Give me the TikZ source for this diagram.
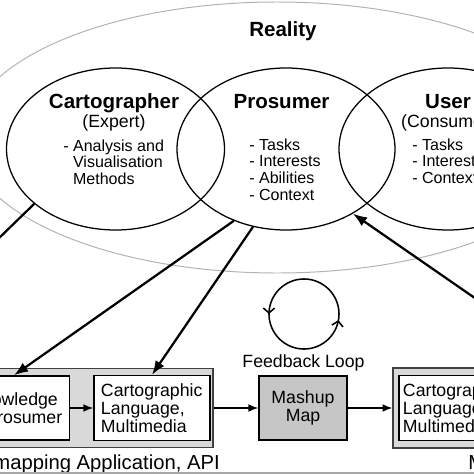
\documentclass[tikz,border=0pt]{standalone}
\usepackage{fontspec}
\setmainfont{Liberation Sans}
\usetikzlibrary{shapes.geometric, arrows.meta, decorations.markings}

\newcommand{\titlesize}{\fontsize{14.6}{17}\selectfont\bfseries}
\newcommand{\rolesize}{\fontsize{12.6}{15}\selectfont}
\newcommand{\entrysize}{\fontsize{11.4}{11.9}\selectfont}
\newcommand{\cardsize}{\fontsize{12.6}{13}\selectfont}
\newcommand{\appsize}{\fontsize{14.4}{17}\selectfont}

\begin{document}
\begin{tikzpicture}[x=0.025cm, y=-0.025cm,
		realm/.style={ellipse, draw=gray!60, line width=0.7pt, inner sep=0pt, minimum width=620*\px, minimum height=271*\px},
		actor/.style={ellipse, draw, line width=0.9pt, inner sep=0pt, minimum width=218*\px, minimum height=162*\px},
		heading/.style={anchor=base, inner sep=0pt, font=\titlesize},
		role/.style={anchor=base, inner sep=0pt, font=\rolesize},
		entry/.style={anchor=base west, inner sep=0pt, font=\entrysize},
		panel/.style={draw=black!75, line width=0.8pt, fill=gray!30, inner sep=0pt},
		card/.style={draw, line width=1pt, fill=white, inner ysep=0pt, inner xsep=7*\px, font=\cardsize},
		flow/.style={line width=1pt, -{Latex[length=7pt, width=5.5pt]}},
		link/.style={line width=1.6pt, -{Latex[length=10pt, width=7.5pt]}},
		feedback/.style={line width=1.1pt, postaction={decorate},
			decoration={markings,
				mark=at position 0.5 with {\arrow{Straight Barb[length=3.5pt, width=8pt]}},
				mark=at position 0.972 with {\arrow{Straight Barb[length=3.5pt, width=8pt]}}}},
		applabel/.style={inner sep=0pt, font=\appsize}]
			\def\px{0.025cm}

			\useasboundingbox (0,0) rectangle (474,474);
			\clip (0,0) rectangle (474,474);

			\begin{scope}
				\node[realm] (reality) at (277,137.5) {};
				\node[actor] (carto) at (115.5,149) {};
				\node[actor] (prosumer) at (286,149) {};
				\node[actor] (user) at (448,149) {};
			\end{scope}

			\begin{scope}
				\node[heading] (reality-t) at (283,36) {Reality};
				\node[heading] (carto-t) at (114,108) {Cartographer};
				\node[heading] (prosumer-t) at (281.5,108) {Prosumer};
				\node[heading] (user-t) at (448,108) {User};
				\node[role] (carto-r) at (114,127) {(Expert)};
				\node[role] (user-r) at (448,127) {(Consumer)};

				\foreach \txt [count=\i] in {{- Analysis and}, {\phantom{- }Visualisation}, {\phantom{- }Methods}}
				{
					\node[entry] (carto-\i) at (63,{151+16.7*(\i-1)}) {\txt};
				}

				\foreach \txt [count=\i] in {Tasks, Interests, Abilities, Context}
				{
					\node[entry] (prosumer-\i) at (249,{150+16.7*(\i-1)}) {- \txt};
				}

				\foreach \txt [count=\i] in {Tasks, Interests, Context}
				{
					\node[entry] (user-\i) at (412,{150+16.7*(\i-1)}) {- \txt};
				}
			\end{scope}

			\begin{scope}
				\node[panel, minimum width=273*\px, minimum height=79*\px] (app) at (76.5,408) {};
				\node[card, align=center, minimum width=104*\px, minimum height=64*\px] (know) at (14,408) {Knowledge\\of Prosumer};
				\node[card, text width=2.55cm, align=left, minimum height=65*\px] (lang) at (152,408) {Cartographic\\Language,\\Multimedia};
				\node[card, fill=gray!45, align=center, minimum width=88*\px, minimum height=64*\px] (mashup) at (303,408) {Mashup\\Map};
				\node[panel, minimum width=147*\px, minimum height=80*\px] (cons) at (466.5,408) {};
				\node[card, inner xsep=4*\px, text width=2.75cm, align=left, minimum height=65*\px] (conslang) at (458,408) {Cartographic\\Language,\\Multimedia};
			\end{scope}

			\begin{scope}
				\coordinate (carto-out) at (-40,276);
				\coordinate (cons-out) at (521,330);
				\draw[link, -] (carto.-146.5) -- (carto-out);
				\draw[link] (prosumer.-126) -- (know.north);
				\draw[link] (prosumer.-113) -- (lang.north);
				\draw[link] (cons-out) -- (prosumer.-44);

				\draw[flow] (know) -- (lang);
				\draw[flow] (app) -- (mashup);
				\draw[flow] (mashup) -- (cons);
			\end{scope}

			\begin{scope}
				\coordinate (loop) at (304,314);
				\draw[feedback] (loop) circle [radius=0.875cm];
				\node[font=\cardsize, anchor=base, inner sep=0pt] (loop-t) at (303.5,367) {Feedback Loop};
			\end{scope}

			\node[applabel, anchor=base east] (app-t) at (220,469.5) {mapping Application, API};
			\node[applabel, anchor=base west] (cons-t) at (468,469.5) {Mapping Application, API};
			\fill[gray!70] (0,472) rectangle (474,474);
		\end{tikzpicture}
\end{document}
